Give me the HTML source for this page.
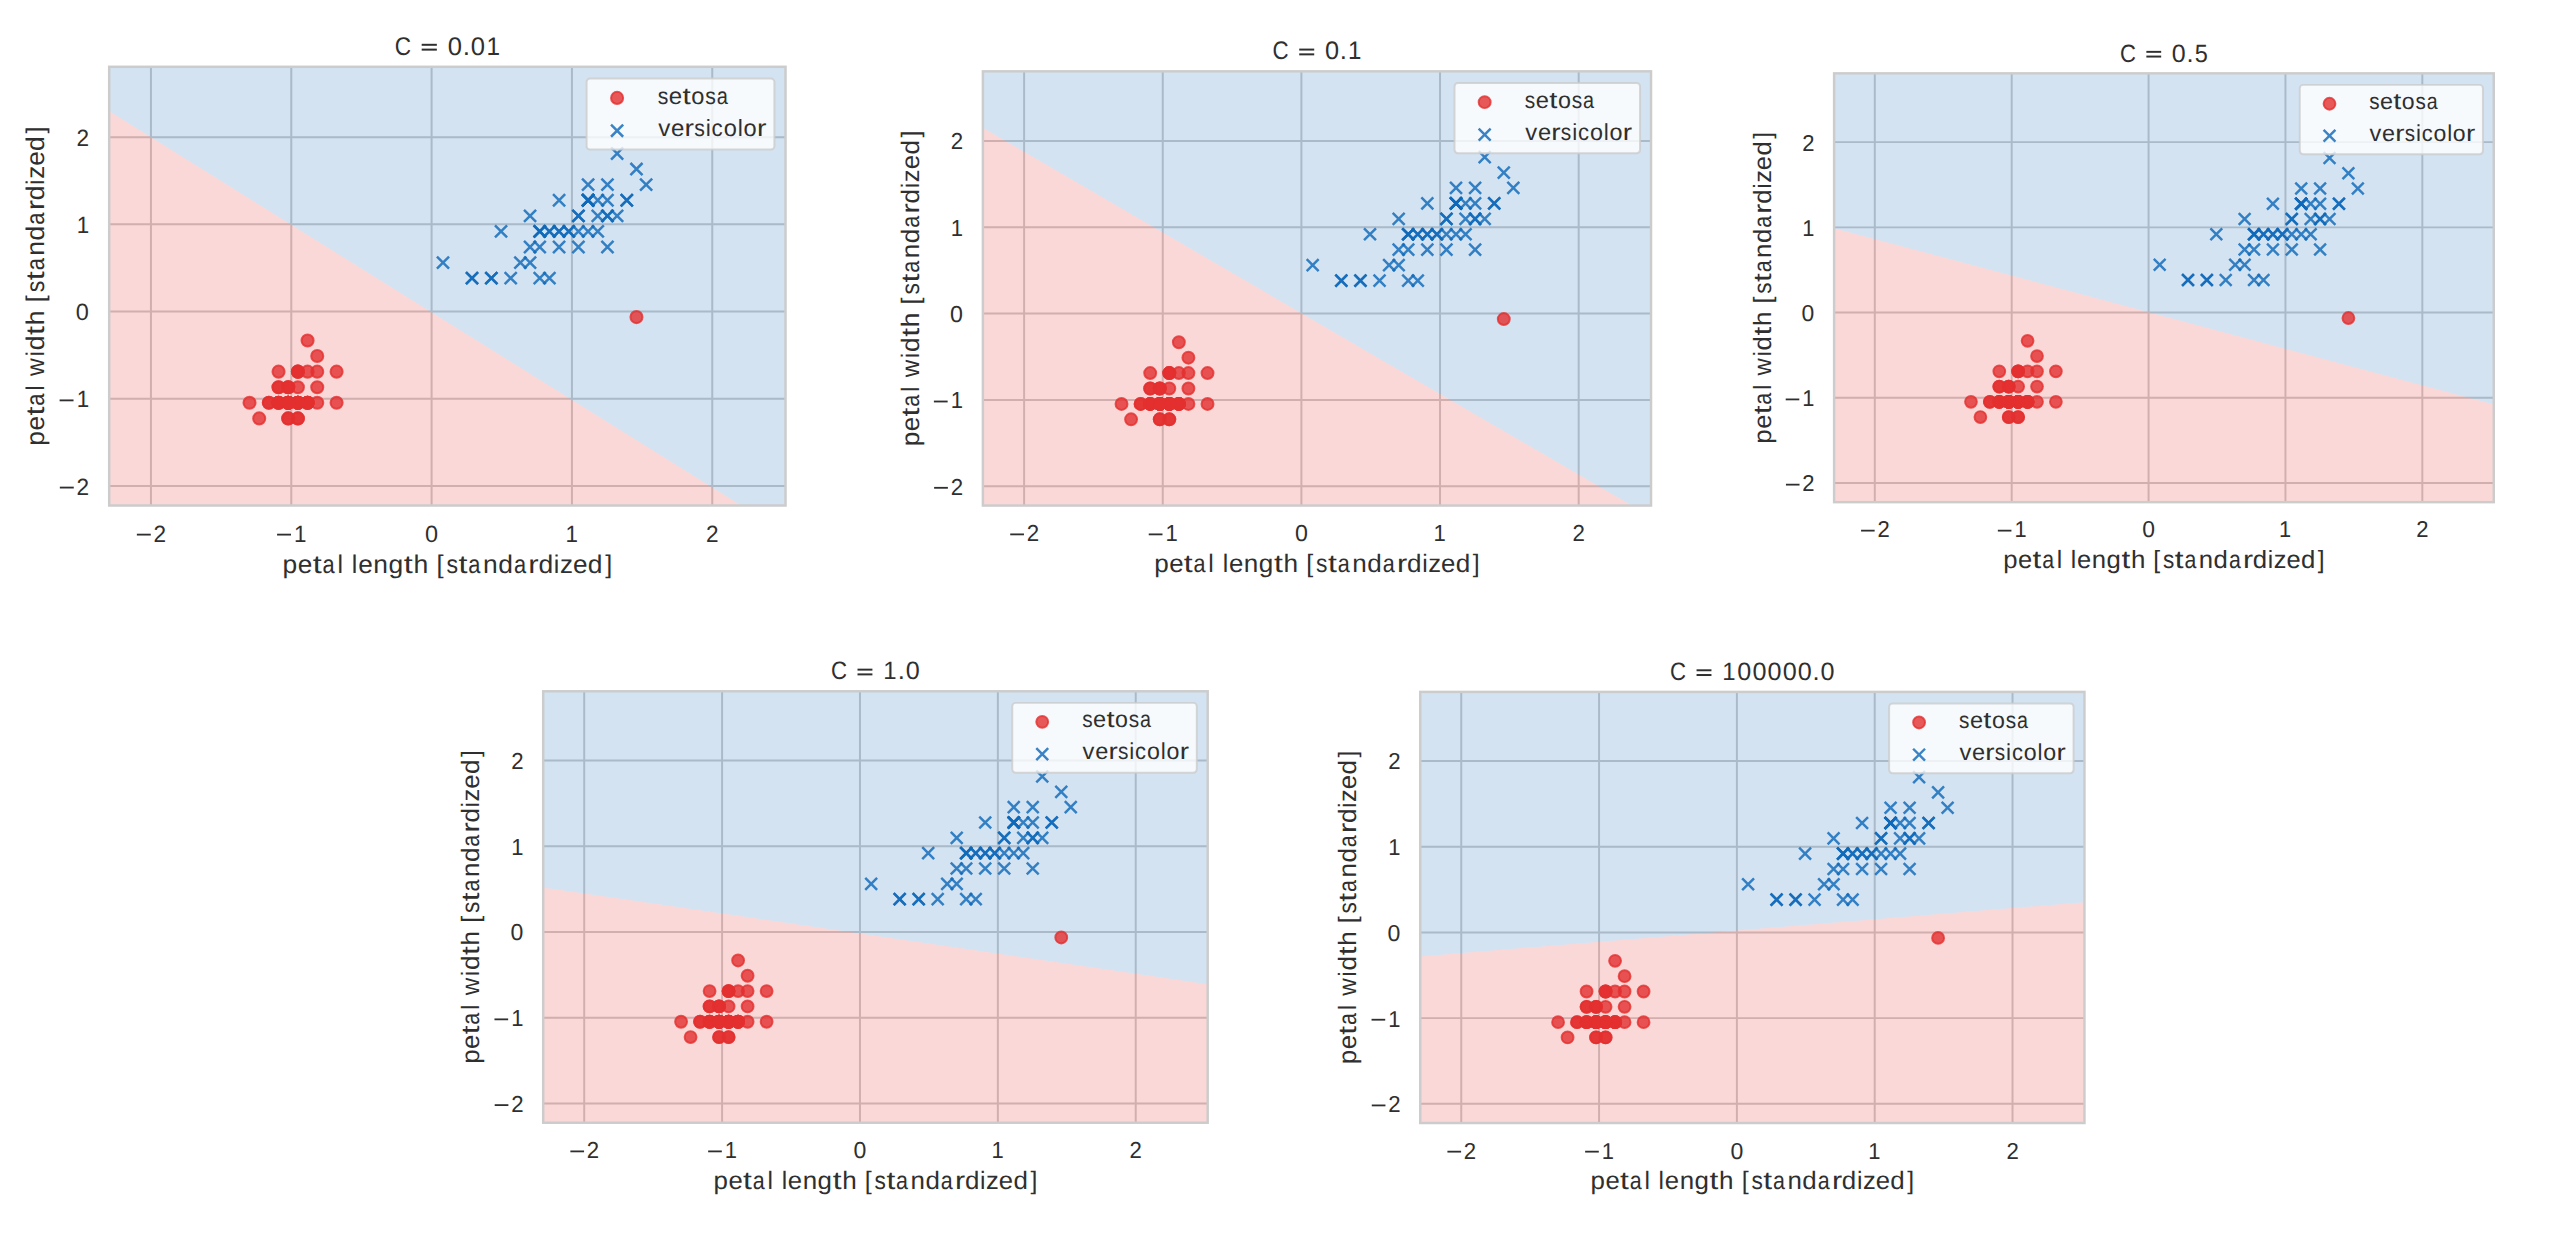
<!DOCTYPE html><html><head><meta charset="utf-8"><style>html,body{margin:0;padding:0;background:#fff;}svg{display:block;} text{font-family:"Liberation Sans", sans-serif;fill:#2f2f2f;text-rendering:geometricPrecision;}</style></head><body>
<svg width="2560" height="1243" viewBox="0 0 2560 1243">
<rect width="2560" height="1243" fill="#fff"/>
<g transform="matrix(1.00000 0 0 1.00000 -0.000 -0.000)">
<clipPath id="clip0"><rect x="109.20" y="66.80" width="676.30" height="438.70"/></clipPath>
<rect x="109.20" y="66.80" width="676.30" height="438.70" fill="#fff"/>
<path d="M150.94 66.80V505.50M109.20 485.95H785.50M291.27 66.80V505.50M109.20 398.75H785.50M431.60 66.80V505.50M109.20 311.55H785.50M571.93 66.80V505.50M109.20 224.35H785.50M712.26 66.80V505.50M109.20 137.15H785.50" stroke="#cccccc" stroke-width="2.0" fill="none"/>
<g clip-path="url(#clip0)">
<path d="M102.18 106.82 L792.52 537.50 L792.52 515.50 L102.18 515.50 Z" fill="rgb(230,60,60)" fill-opacity="0.2"/>
<path d="M102.18 106.82 L792.52 537.50 L792.52 56.80 L102.18 56.80 Z" fill="rgb(35,115,190)" fill-opacity="0.2"/>
<g fill="rgb(228,48,48)" fill-opacity="0.8" stroke="rgb(228,48,48)" stroke-opacity="0.8" stroke-width="2.0">
<circle cx="288.22" cy="402.82" r="6.05"/>
<circle cx="288.22" cy="402.82" r="6.05"/>
<circle cx="278.55" cy="402.82" r="6.05"/>
<circle cx="297.90" cy="402.82" r="6.05"/>
<circle cx="288.22" cy="402.82" r="6.05"/>
<circle cx="317.24" cy="371.65" r="6.05"/>
<circle cx="288.22" cy="387.23" r="6.05"/>
<circle cx="297.90" cy="402.82" r="6.05"/>
<circle cx="288.22" cy="402.82" r="6.05"/>
<circle cx="297.90" cy="418.40" r="6.05"/>
<circle cx="297.90" cy="402.82" r="6.05"/>
<circle cx="307.57" cy="402.82" r="6.05"/>
<circle cx="288.22" cy="418.40" r="6.05"/>
<circle cx="259.20" cy="418.40" r="6.05"/>
<circle cx="268.87" cy="402.82" r="6.05"/>
<circle cx="297.90" cy="371.65" r="6.05"/>
<circle cx="278.55" cy="371.65" r="6.05"/>
<circle cx="288.22" cy="387.23" r="6.05"/>
<circle cx="317.24" cy="387.23" r="6.05"/>
<circle cx="297.90" cy="387.23" r="6.05"/>
<circle cx="317.24" cy="402.82" r="6.05"/>
<circle cx="297.90" cy="371.65" r="6.05"/>
<circle cx="249.53" cy="402.82" r="6.05"/>
<circle cx="317.24" cy="356.07" r="6.05"/>
<circle cx="336.59" cy="402.82" r="6.05"/>
<circle cx="307.57" cy="402.82" r="6.05"/>
<circle cx="307.57" cy="371.65" r="6.05"/>
<circle cx="297.90" cy="402.82" r="6.05"/>
<circle cx="288.22" cy="402.82" r="6.05"/>
<circle cx="307.57" cy="402.82" r="6.05"/>
<circle cx="307.57" cy="402.82" r="6.05"/>
<circle cx="297.90" cy="371.65" r="6.05"/>
<circle cx="297.90" cy="418.40" r="6.05"/>
<circle cx="288.22" cy="402.82" r="6.05"/>
<circle cx="297.90" cy="402.82" r="6.05"/>
<circle cx="268.87" cy="402.82" r="6.05"/>
<circle cx="278.55" cy="402.82" r="6.05"/>
<circle cx="288.22" cy="418.40" r="6.05"/>
<circle cx="278.55" cy="402.82" r="6.05"/>
<circle cx="297.90" cy="402.82" r="6.05"/>
<circle cx="278.55" cy="387.23" r="6.05"/>
<circle cx="278.55" cy="387.23" r="6.05"/>
<circle cx="278.55" cy="402.82" r="6.05"/>
<circle cx="307.57" cy="340.48" r="6.05"/>
<circle cx="336.59" cy="371.65" r="6.05"/>
<circle cx="288.22" cy="387.23" r="6.05"/>
<circle cx="307.57" cy="402.82" r="6.05"/>
<circle cx="288.22" cy="402.82" r="6.05"/>
<circle cx="297.90" cy="402.82" r="6.05"/>
<circle cx="288.22" cy="402.82" r="6.05"/>
<circle cx="636.47" cy="317.10" r="6.05"/>
</g>
<g stroke="rgb(15,105,185)" stroke-opacity="0.82" stroke-width="2.5" fill="none">
<path d="M601.40 209.76L613.50 221.86M601.40 221.86L613.50 209.76"/>
<path d="M582.05 194.17L594.15 206.27M582.05 206.27L594.15 194.17"/>
<path d="M620.74 194.17L632.84 206.27M620.74 206.27L632.84 194.17"/>
<path d="M533.68 225.34L545.78 237.44M533.68 237.44L545.78 225.34"/>
<path d="M591.72 194.17L603.82 206.27M591.72 206.27L603.82 194.17"/>
<path d="M582.05 225.34L594.15 237.44M582.05 237.44L594.15 225.34"/>
<path d="M601.40 178.59L613.50 190.69M601.40 190.69L613.50 178.59"/>
<path d="M465.97 272.09L478.07 284.19M465.97 284.19L478.07 272.09"/>
<path d="M591.72 225.34L603.82 237.44M591.72 237.44L603.82 225.34"/>
<path d="M524.01 209.76L536.11 221.86M524.01 221.86L536.11 209.76"/>
<path d="M485.31 272.09L497.41 284.19M485.31 284.19L497.41 272.09"/>
<path d="M553.03 194.17L565.13 206.27M553.03 206.27L565.13 194.17"/>
<path d="M533.68 272.09L545.78 284.19M533.68 284.19L545.78 272.09"/>
<path d="M601.40 209.76L613.50 221.86M601.40 221.86L613.50 209.76"/>
<path d="M494.99 225.34L507.09 237.44M494.99 237.44L507.09 225.34"/>
<path d="M572.38 209.76L584.48 221.86M572.38 221.86L584.48 209.76"/>
<path d="M582.05 194.17L594.15 206.27M582.05 206.27L594.15 194.17"/>
<path d="M543.36 272.09L555.46 284.19M543.36 284.19L555.46 272.09"/>
<path d="M582.05 194.17L594.15 206.27M582.05 206.27L594.15 194.17"/>
<path d="M524.01 256.51L536.11 268.61M524.01 268.61L536.11 256.51"/>
<path d="M611.07 147.42L623.17 159.52M611.07 159.52L623.17 147.42"/>
<path d="M533.68 225.34L545.78 237.44M533.68 237.44L545.78 225.34"/>
<path d="M620.74 194.17L632.84 206.27M620.74 206.27L632.84 194.17"/>
<path d="M601.40 240.93L613.50 253.03M601.40 253.03L613.50 240.93"/>
<path d="M562.70 225.34L574.80 237.44M562.70 237.44L574.80 225.34"/>
<path d="M572.38 209.76L584.48 221.86M572.38 221.86L584.48 209.76"/>
<path d="M611.07 209.76L623.17 221.86M611.07 221.86L623.17 209.76"/>
<path d="M630.42 163.00L642.52 175.10M630.42 175.10L642.52 163.00"/>
<path d="M582.05 194.17L594.15 206.27M582.05 206.27L594.15 194.17"/>
<path d="M485.31 272.09L497.41 284.19M485.31 284.19L497.41 272.09"/>
<path d="M514.34 256.51L526.44 268.61M514.34 268.61L526.44 256.51"/>
<path d="M504.66 272.09L516.76 284.19M504.66 284.19L516.76 272.09"/>
<path d="M524.01 240.93L536.11 253.03M524.01 253.03L536.11 240.93"/>
<path d="M640.09 178.59L652.19 190.69M640.09 190.69L652.19 178.59"/>
<path d="M582.05 194.17L594.15 206.27M582.05 206.27L594.15 194.17"/>
<path d="M582.05 178.59L594.15 190.69M582.05 190.69L594.15 178.59"/>
<path d="M601.40 194.17L613.50 206.27M601.40 206.27L613.50 194.17"/>
<path d="M572.38 225.34L584.48 237.44M572.38 237.44L584.48 225.34"/>
<path d="M543.36 225.34L555.46 237.44M543.36 237.44L555.46 225.34"/>
<path d="M533.68 225.34L545.78 237.44M533.68 237.44L545.78 225.34"/>
<path d="M572.38 240.93L584.48 253.03M572.38 253.03L584.48 240.93"/>
<path d="M591.72 209.76L603.82 221.86M591.72 221.86L603.82 209.76"/>
<path d="M533.68 240.93L545.78 253.03M533.68 253.03L545.78 240.93"/>
<path d="M465.97 272.09L478.07 284.19M465.97 284.19L478.07 272.09"/>
<path d="M553.03 225.34L565.13 237.44M553.03 237.44L565.13 225.34"/>
<path d="M553.03 240.93L565.13 253.03M553.03 253.03L565.13 240.93"/>
<path d="M553.03 225.34L565.13 237.44M553.03 237.44L565.13 225.34"/>
<path d="M562.70 225.34L574.80 237.44M562.70 237.44L574.80 225.34"/>
<path d="M436.95 256.51L449.05 268.61M436.95 268.61L449.05 256.51"/>
<path d="M543.36 225.34L555.46 237.44M543.36 237.44L555.46 225.34"/>
</g>
</g>
<rect x="109.20" y="66.80" width="676.30" height="438.70" fill="none" stroke="#cccccc" stroke-width="2.5"/>
<rect x="586.60" y="78.60" width="187.80" height="71.00" rx="3.5" fill="#fff" fill-opacity="0.8" stroke="#cccccc" stroke-opacity="0.8" stroke-width="2.0"/>
<circle cx="617.1" cy="97.9" r="6.05" fill="rgb(228,48,48)" fill-opacity="0.8" stroke="rgb(228,48,48)" stroke-opacity="0.8" stroke-width="2.0"/>
<path d="M611.05 124.65L623.15 136.75M611.05 136.75L623.15 124.65" stroke="rgb(15,105,185)" stroke-opacity="0.82" stroke-width="2.5"/>
<g font-size="23.50"><text transform="translate(657.72 103.60) scale(0.902 1)">s</text><text transform="translate(668.86 103.60) scale(1.021 1)">e</text><text transform="translate(682.49 103.60) scale(1.261 1)">t</text><text transform="translate(691.26 103.60) scale(1.006 1)">o</text><text transform="translate(705.27 103.60) scale(0.902 1)">s</text><text transform="translate(716.69 103.60) scale(0.853 1)">a</text></g>
<g font-size="23.50"><text transform="translate(658.18 136.00) scale(1.028 1)">v</text><text transform="translate(670.99 136.00) scale(1.021 1)">e</text><text transform="translate(684.53 136.00) scale(1.210 1)">r</text><text transform="translate(694.23 136.00) scale(0.902 1)">s</text><text transform="translate(705.73 136.00) scale(0.973 1)">i</text><text transform="translate(711.61 136.00) scale(0.951 1)">c</text><text transform="translate(723.77 136.00) scale(1.006 1)">o</text><text transform="translate(737.72 136.00) scale(0.973 1)">l</text><text transform="translate(743.54 136.00) scale(1.006 1)">o</text><text transform="translate(757.00 136.00) scale(1.210 1)">r</text></g>
<g font-size="25.60"><text transform="translate(394.68 54.80) scale(0.883 1)">C</text><rect x="421.68" y="43.80" width="15.17" height="1.99" fill="#2f2f2f"/><rect x="421.68" y="48.62" width="15.17" height="2.01" fill="#2f2f2f"/><text transform="translate(447.67 54.80) scale(1.001 1)">0</text><text transform="translate(462.73 54.80) scale(1.022 1)">.</text><text transform="translate(470.80 54.80) scale(1.001 1)">0</text><text transform="translate(486.51 54.80) scale(0.952 1)">1</text></g>
<g font-size="25.60"><text transform="translate(282.62 572.60) scale(1.031 1)">p</text><text transform="translate(297.76 572.60) scale(1.022 1)">e</text><text transform="translate(312.64 572.60) scale(1.262 1)">t</text><text transform="translate(322.48 572.60) scale(0.854 1)">a</text><text transform="translate(337.43 572.60) scale(0.974 1)">l</text><text transform="translate(351.87 572.60) scale(0.974 1)">l</text><text transform="translate(358.21 572.60) scale(1.022 1)">e</text><text transform="translate(373.30 572.60) scale(1.031 1)">n</text><text transform="translate(388.48 572.60) scale(1.031 1)">g</text><text transform="translate(403.83 572.60) scale(1.262 1)">t</text><text transform="translate(413.48 572.60) scale(1.037 1)">h</text><text transform="translate(436.44 572.60) scale(0.995 1)">[</text><text transform="translate(446.38 572.60) scale(0.904 1)">s</text><text transform="translate(458.49 572.60) scale(1.262 1)">t</text><text transform="translate(468.34 572.60) scale(0.854 1)">a</text><text transform="translate(483.07 572.60) scale(1.031 1)">n</text><text transform="translate(498.24 572.60) scale(1.031 1)">d</text><text transform="translate(513.94 572.60) scale(0.854 1)">a</text><text transform="translate(528.36 572.60) scale(1.212 1)">r</text><text transform="translate(538.45 572.60) scale(1.031 1)">d</text><text transform="translate(553.82 572.60) scale(0.974 1)">i</text><text transform="translate(559.92 572.60) scale(1.016 1)">z</text><text transform="translate(572.88 572.60) scale(1.022 1)">e</text><text transform="translate(587.78 572.60) scale(1.031 1)">d</text><text transform="translate(605.13 572.60) scale(0.982 1)">]</text></g>
<g transform="translate(44.1 286.15) rotate(-90)">
<g font-size="25.60"><text transform="translate(-159.49 0.00) scale(1.031 1)">p</text><text transform="translate(-144.35 0.00) scale(1.022 1)">e</text><text transform="translate(-129.47 0.00) scale(1.262 1)">t</text><text transform="translate(-119.62 0.00) scale(0.854 1)">a</text><text transform="translate(-104.68 0.00) scale(0.974 1)">l</text><text transform="translate(-89.83 0.00) scale(0.957 1)">w</text><text transform="translate(-70.41 0.00) scale(0.974 1)">i</text><text transform="translate(-64.08 0.00) scale(1.031 1)">d</text><text transform="translate(-48.73 0.00) scale(1.262 1)">t</text><text transform="translate(-39.08 0.00) scale(1.037 1)">h</text><text transform="translate(-16.12 0.00) scale(0.995 1)">[</text><text transform="translate(-6.18 0.00) scale(0.904 1)">s</text><text transform="translate(5.93 0.00) scale(1.262 1)">t</text><text transform="translate(15.78 0.00) scale(0.854 1)">a</text><text transform="translate(30.51 0.00) scale(1.031 1)">n</text><text transform="translate(45.68 0.00) scale(1.031 1)">d</text><text transform="translate(61.38 0.00) scale(0.854 1)">a</text><text transform="translate(75.80 0.00) scale(1.212 1)">r</text><text transform="translate(85.89 0.00) scale(1.031 1)">d</text><text transform="translate(101.26 0.00) scale(0.974 1)">i</text><text transform="translate(107.36 0.00) scale(1.016 1)">z</text><text transform="translate(120.32 0.00) scale(1.022 1)">e</text><text transform="translate(135.22 0.00) scale(1.031 1)">d</text><text transform="translate(152.57 0.00) scale(0.982 1)">]</text></g>
</g>
<rect x="136.86" y="533.71" width="13.92" height="1.83" fill="#2f2f2f"/><text transform="translate(153.60 541.60) scale(0.9611 1)" font-size="23.50">2</text>
<rect x="59.84" y="486.66" width="13.92" height="1.83" fill="#2f2f2f"/><text transform="translate(76.58 494.55) scale(0.9611 1)" font-size="23.50">2</text>
<rect x="277.08" y="533.71" width="13.92" height="1.83" fill="#2f2f2f"/><text transform="translate(294.10 541.60) scale(0.9510 1)" font-size="23.50">1</text>
<rect x="59.61" y="399.46" width="13.92" height="1.83" fill="#2f2f2f"/><text transform="translate(76.64 407.35) scale(0.9510 1)" font-size="23.50">1</text>
<text transform="translate(425.05 541.60) scale(1.0000 1)" font-size="23.50">0</text>
<text transform="translate(75.84 320.15) scale(1.0000 1)" font-size="23.50">0</text>
<text transform="translate(565.42 541.60) scale(0.9510 1)" font-size="23.50">1</text>
<text transform="translate(76.66 232.95) scale(0.9510 1)" font-size="23.50">1</text>
<text transform="translate(705.99 541.60) scale(0.9611 1)" font-size="23.50">2</text>
<text transform="translate(76.59 145.75) scale(0.9611 1)" font-size="23.50">2</text>
</g>
<g transform="matrix(0.98793 0 0 0.98974 875.005 5.240)">
<clipPath id="clip1"><rect x="109.20" y="66.80" width="676.30" height="438.70"/></clipPath>
<rect x="109.20" y="66.80" width="676.30" height="438.70" fill="#fff"/>
<path d="M150.94 66.80V505.50M109.20 485.95H785.50M291.27 66.80V505.50M109.20 398.75H785.50M431.60 66.80V505.50M109.20 311.55H785.50M571.93 66.80V505.50M109.20 224.35H785.50M712.26 66.80V505.50M109.20 137.15H785.50" stroke="#cccccc" stroke-width="2.0" fill="none"/>
<g clip-path="url(#clip1)">
<path d="M102.18 119.72 L792.52 520.81 L792.52 515.50 L102.18 515.50 Z" fill="rgb(230,60,60)" fill-opacity="0.2"/>
<path d="M102.18 119.72 L792.52 520.81 L792.52 56.80 L102.18 56.80 Z" fill="rgb(35,115,190)" fill-opacity="0.2"/>
<g fill="rgb(228,48,48)" fill-opacity="0.8" stroke="rgb(228,48,48)" stroke-opacity="0.8" stroke-width="2.0">
<circle cx="288.22" cy="402.82" r="6.05"/>
<circle cx="288.22" cy="402.82" r="6.05"/>
<circle cx="278.55" cy="402.82" r="6.05"/>
<circle cx="297.90" cy="402.82" r="6.05"/>
<circle cx="288.22" cy="402.82" r="6.05"/>
<circle cx="317.24" cy="371.65" r="6.05"/>
<circle cx="288.22" cy="387.23" r="6.05"/>
<circle cx="297.90" cy="402.82" r="6.05"/>
<circle cx="288.22" cy="402.82" r="6.05"/>
<circle cx="297.90" cy="418.40" r="6.05"/>
<circle cx="297.90" cy="402.82" r="6.05"/>
<circle cx="307.57" cy="402.82" r="6.05"/>
<circle cx="288.22" cy="418.40" r="6.05"/>
<circle cx="259.20" cy="418.40" r="6.05"/>
<circle cx="268.87" cy="402.82" r="6.05"/>
<circle cx="297.90" cy="371.65" r="6.05"/>
<circle cx="278.55" cy="371.65" r="6.05"/>
<circle cx="288.22" cy="387.23" r="6.05"/>
<circle cx="317.24" cy="387.23" r="6.05"/>
<circle cx="297.90" cy="387.23" r="6.05"/>
<circle cx="317.24" cy="402.82" r="6.05"/>
<circle cx="297.90" cy="371.65" r="6.05"/>
<circle cx="249.53" cy="402.82" r="6.05"/>
<circle cx="317.24" cy="356.07" r="6.05"/>
<circle cx="336.59" cy="402.82" r="6.05"/>
<circle cx="307.57" cy="402.82" r="6.05"/>
<circle cx="307.57" cy="371.65" r="6.05"/>
<circle cx="297.90" cy="402.82" r="6.05"/>
<circle cx="288.22" cy="402.82" r="6.05"/>
<circle cx="307.57" cy="402.82" r="6.05"/>
<circle cx="307.57" cy="402.82" r="6.05"/>
<circle cx="297.90" cy="371.65" r="6.05"/>
<circle cx="297.90" cy="418.40" r="6.05"/>
<circle cx="288.22" cy="402.82" r="6.05"/>
<circle cx="297.90" cy="402.82" r="6.05"/>
<circle cx="268.87" cy="402.82" r="6.05"/>
<circle cx="278.55" cy="402.82" r="6.05"/>
<circle cx="288.22" cy="418.40" r="6.05"/>
<circle cx="278.55" cy="402.82" r="6.05"/>
<circle cx="297.90" cy="402.82" r="6.05"/>
<circle cx="278.55" cy="387.23" r="6.05"/>
<circle cx="278.55" cy="387.23" r="6.05"/>
<circle cx="278.55" cy="402.82" r="6.05"/>
<circle cx="307.57" cy="340.48" r="6.05"/>
<circle cx="336.59" cy="371.65" r="6.05"/>
<circle cx="288.22" cy="387.23" r="6.05"/>
<circle cx="307.57" cy="402.82" r="6.05"/>
<circle cx="288.22" cy="402.82" r="6.05"/>
<circle cx="297.90" cy="402.82" r="6.05"/>
<circle cx="288.22" cy="402.82" r="6.05"/>
<circle cx="636.47" cy="317.10" r="6.05"/>
</g>
<g stroke="rgb(15,105,185)" stroke-opacity="0.82" stroke-width="2.5" fill="none">
<path d="M601.40 209.76L613.50 221.86M601.40 221.86L613.50 209.76"/>
<path d="M582.05 194.17L594.15 206.27M582.05 206.27L594.15 194.17"/>
<path d="M620.74 194.17L632.84 206.27M620.74 206.27L632.84 194.17"/>
<path d="M533.68 225.34L545.78 237.44M533.68 237.44L545.78 225.34"/>
<path d="M591.72 194.17L603.82 206.27M591.72 206.27L603.82 194.17"/>
<path d="M582.05 225.34L594.15 237.44M582.05 237.44L594.15 225.34"/>
<path d="M601.40 178.59L613.50 190.69M601.40 190.69L613.50 178.59"/>
<path d="M465.97 272.09L478.07 284.19M465.97 284.19L478.07 272.09"/>
<path d="M591.72 225.34L603.82 237.44M591.72 237.44L603.82 225.34"/>
<path d="M524.01 209.76L536.11 221.86M524.01 221.86L536.11 209.76"/>
<path d="M485.31 272.09L497.41 284.19M485.31 284.19L497.41 272.09"/>
<path d="M553.03 194.17L565.13 206.27M553.03 206.27L565.13 194.17"/>
<path d="M533.68 272.09L545.78 284.19M533.68 284.19L545.78 272.09"/>
<path d="M601.40 209.76L613.50 221.86M601.40 221.86L613.50 209.76"/>
<path d="M494.99 225.34L507.09 237.44M494.99 237.44L507.09 225.34"/>
<path d="M572.38 209.76L584.48 221.86M572.38 221.86L584.48 209.76"/>
<path d="M582.05 194.17L594.15 206.27M582.05 206.27L594.15 194.17"/>
<path d="M543.36 272.09L555.46 284.19M543.36 284.19L555.46 272.09"/>
<path d="M582.05 194.17L594.15 206.27M582.05 206.27L594.15 194.17"/>
<path d="M524.01 256.51L536.11 268.61M524.01 268.61L536.11 256.51"/>
<path d="M611.07 147.42L623.17 159.52M611.07 159.52L623.17 147.42"/>
<path d="M533.68 225.34L545.78 237.44M533.68 237.44L545.78 225.34"/>
<path d="M620.74 194.17L632.84 206.27M620.74 206.27L632.84 194.17"/>
<path d="M601.40 240.93L613.50 253.03M601.40 253.03L613.50 240.93"/>
<path d="M562.70 225.34L574.80 237.44M562.70 237.44L574.80 225.34"/>
<path d="M572.38 209.76L584.48 221.86M572.38 221.86L584.48 209.76"/>
<path d="M611.07 209.76L623.17 221.86M611.07 221.86L623.17 209.76"/>
<path d="M630.42 163.00L642.52 175.10M630.42 175.10L642.52 163.00"/>
<path d="M582.05 194.17L594.15 206.27M582.05 206.27L594.15 194.17"/>
<path d="M485.31 272.09L497.41 284.19M485.31 284.19L497.41 272.09"/>
<path d="M514.34 256.51L526.44 268.61M514.34 268.61L526.44 256.51"/>
<path d="M504.66 272.09L516.76 284.19M504.66 284.19L516.76 272.09"/>
<path d="M524.01 240.93L536.11 253.03M524.01 253.03L536.11 240.93"/>
<path d="M640.09 178.59L652.19 190.69M640.09 190.69L652.19 178.59"/>
<path d="M582.05 194.17L594.15 206.27M582.05 206.27L594.15 194.17"/>
<path d="M582.05 178.59L594.15 190.69M582.05 190.69L594.15 178.59"/>
<path d="M601.40 194.17L613.50 206.27M601.40 206.27L613.50 194.17"/>
<path d="M572.38 225.34L584.48 237.44M572.38 237.44L584.48 225.34"/>
<path d="M543.36 225.34L555.46 237.44M543.36 237.44L555.46 225.34"/>
<path d="M533.68 225.34L545.78 237.44M533.68 237.44L545.78 225.34"/>
<path d="M572.38 240.93L584.48 253.03M572.38 253.03L584.48 240.93"/>
<path d="M591.72 209.76L603.82 221.86M591.72 221.86L603.82 209.76"/>
<path d="M533.68 240.93L545.78 253.03M533.68 253.03L545.78 240.93"/>
<path d="M465.97 272.09L478.07 284.19M465.97 284.19L478.07 272.09"/>
<path d="M553.03 225.34L565.13 237.44M553.03 237.44L565.13 225.34"/>
<path d="M553.03 240.93L565.13 253.03M553.03 253.03L565.13 240.93"/>
<path d="M553.03 225.34L565.13 237.44M553.03 237.44L565.13 225.34"/>
<path d="M562.70 225.34L574.80 237.44M562.70 237.44L574.80 225.34"/>
<path d="M436.95 256.51L449.05 268.61M436.95 268.61L449.05 256.51"/>
<path d="M543.36 225.34L555.46 237.44M543.36 237.44L555.46 225.34"/>
</g>
</g>
<rect x="109.20" y="66.80" width="676.30" height="438.70" fill="none" stroke="#cccccc" stroke-width="2.5"/>
<rect x="586.60" y="78.60" width="187.80" height="71.00" rx="3.5" fill="#fff" fill-opacity="0.8" stroke="#cccccc" stroke-opacity="0.8" stroke-width="2.0"/>
<circle cx="617.1" cy="97.9" r="6.05" fill="rgb(228,48,48)" fill-opacity="0.8" stroke="rgb(228,48,48)" stroke-opacity="0.8" stroke-width="2.0"/>
<path d="M611.05 124.65L623.15 136.75M611.05 136.75L623.15 124.65" stroke="rgb(15,105,185)" stroke-opacity="0.82" stroke-width="2.5"/>
<g font-size="23.50"><text transform="translate(657.72 103.60) scale(0.902 1)">s</text><text transform="translate(668.86 103.60) scale(1.021 1)">e</text><text transform="translate(682.49 103.60) scale(1.261 1)">t</text><text transform="translate(691.26 103.60) scale(1.006 1)">o</text><text transform="translate(705.27 103.60) scale(0.902 1)">s</text><text transform="translate(716.69 103.60) scale(0.853 1)">a</text></g>
<g font-size="23.50"><text transform="translate(658.18 136.00) scale(1.028 1)">v</text><text transform="translate(670.99 136.00) scale(1.021 1)">e</text><text transform="translate(684.53 136.00) scale(1.210 1)">r</text><text transform="translate(694.23 136.00) scale(0.902 1)">s</text><text transform="translate(705.73 136.00) scale(0.973 1)">i</text><text transform="translate(711.61 136.00) scale(0.951 1)">c</text><text transform="translate(723.77 136.00) scale(1.006 1)">o</text><text transform="translate(737.72 136.00) scale(0.973 1)">l</text><text transform="translate(743.54 136.00) scale(1.006 1)">o</text><text transform="translate(757.00 136.00) scale(1.210 1)">r</text></g>
<g font-size="25.60"><text transform="translate(402.41 54.80) scale(0.883 1)">C</text><rect x="429.40" y="43.80" width="15.17" height="1.99" fill="#2f2f2f"/><rect x="429.40" y="48.62" width="15.17" height="2.01" fill="#2f2f2f"/><text transform="translate(455.40 54.80) scale(1.001 1)">0</text><text transform="translate(470.46 54.80) scale(1.022 1)">.</text><text transform="translate(478.82 54.80) scale(0.952 1)">1</text></g>
<g font-size="25.60"><text transform="translate(282.62 572.60) scale(1.031 1)">p</text><text transform="translate(297.76 572.60) scale(1.022 1)">e</text><text transform="translate(312.64 572.60) scale(1.262 1)">t</text><text transform="translate(322.48 572.60) scale(0.854 1)">a</text><text transform="translate(337.43 572.60) scale(0.974 1)">l</text><text transform="translate(351.87 572.60) scale(0.974 1)">l</text><text transform="translate(358.21 572.60) scale(1.022 1)">e</text><text transform="translate(373.30 572.60) scale(1.031 1)">n</text><text transform="translate(388.48 572.60) scale(1.031 1)">g</text><text transform="translate(403.83 572.60) scale(1.262 1)">t</text><text transform="translate(413.48 572.60) scale(1.037 1)">h</text><text transform="translate(436.44 572.60) scale(0.995 1)">[</text><text transform="translate(446.38 572.60) scale(0.904 1)">s</text><text transform="translate(458.49 572.60) scale(1.262 1)">t</text><text transform="translate(468.34 572.60) scale(0.854 1)">a</text><text transform="translate(483.07 572.60) scale(1.031 1)">n</text><text transform="translate(498.24 572.60) scale(1.031 1)">d</text><text transform="translate(513.94 572.60) scale(0.854 1)">a</text><text transform="translate(528.36 572.60) scale(1.212 1)">r</text><text transform="translate(538.45 572.60) scale(1.031 1)">d</text><text transform="translate(553.82 572.60) scale(0.974 1)">i</text><text transform="translate(559.92 572.60) scale(1.016 1)">z</text><text transform="translate(572.88 572.60) scale(1.022 1)">e</text><text transform="translate(587.78 572.60) scale(1.031 1)">d</text><text transform="translate(605.13 572.60) scale(0.982 1)">]</text></g>
<g transform="translate(44.1 286.15) rotate(-90)">
<g font-size="25.60"><text transform="translate(-159.49 0.00) scale(1.031 1)">p</text><text transform="translate(-144.35 0.00) scale(1.022 1)">e</text><text transform="translate(-129.47 0.00) scale(1.262 1)">t</text><text transform="translate(-119.62 0.00) scale(0.854 1)">a</text><text transform="translate(-104.68 0.00) scale(0.974 1)">l</text><text transform="translate(-89.83 0.00) scale(0.957 1)">w</text><text transform="translate(-70.41 0.00) scale(0.974 1)">i</text><text transform="translate(-64.08 0.00) scale(1.031 1)">d</text><text transform="translate(-48.73 0.00) scale(1.262 1)">t</text><text transform="translate(-39.08 0.00) scale(1.037 1)">h</text><text transform="translate(-16.12 0.00) scale(0.995 1)">[</text><text transform="translate(-6.18 0.00) scale(0.904 1)">s</text><text transform="translate(5.93 0.00) scale(1.262 1)">t</text><text transform="translate(15.78 0.00) scale(0.854 1)">a</text><text transform="translate(30.51 0.00) scale(1.031 1)">n</text><text transform="translate(45.68 0.00) scale(1.031 1)">d</text><text transform="translate(61.38 0.00) scale(0.854 1)">a</text><text transform="translate(75.80 0.00) scale(1.212 1)">r</text><text transform="translate(85.89 0.00) scale(1.031 1)">d</text><text transform="translate(101.26 0.00) scale(0.974 1)">i</text><text transform="translate(107.36 0.00) scale(1.016 1)">z</text><text transform="translate(120.32 0.00) scale(1.022 1)">e</text><text transform="translate(135.22 0.00) scale(1.031 1)">d</text><text transform="translate(152.57 0.00) scale(0.982 1)">]</text></g>
</g>
<rect x="136.86" y="533.71" width="13.92" height="1.83" fill="#2f2f2f"/><text transform="translate(153.60 541.60) scale(0.9611 1)" font-size="23.50">2</text>
<rect x="59.84" y="486.66" width="13.92" height="1.83" fill="#2f2f2f"/><text transform="translate(76.58 494.55) scale(0.9611 1)" font-size="23.50">2</text>
<rect x="277.08" y="533.71" width="13.92" height="1.83" fill="#2f2f2f"/><text transform="translate(294.10 541.60) scale(0.9510 1)" font-size="23.50">1</text>
<rect x="59.61" y="399.46" width="13.92" height="1.83" fill="#2f2f2f"/><text transform="translate(76.64 407.35) scale(0.9510 1)" font-size="23.50">1</text>
<text transform="translate(425.05 541.60) scale(1.0000 1)" font-size="23.50">0</text>
<text transform="translate(75.84 320.15) scale(1.0000 1)" font-size="23.50">0</text>
<text transform="translate(565.42 541.60) scale(0.9510 1)" font-size="23.50">1</text>
<text transform="translate(76.66 232.95) scale(0.9510 1)" font-size="23.50">1</text>
<text transform="translate(705.99 541.60) scale(0.9611 1)" font-size="23.50">2</text>
<text transform="translate(76.59 145.75) scale(0.9611 1)" font-size="23.50">2</text>
</g>
<g transform="matrix(0.97543 0 0 0.97748 1727.574 8.056)">
<clipPath id="clip2"><rect x="109.20" y="66.80" width="676.30" height="438.70"/></clipPath>
<rect x="109.20" y="66.80" width="676.30" height="438.70" fill="#fff"/>
<path d="M150.94 66.80V505.50M109.20 485.95H785.50M291.27 66.80V505.50M109.20 398.75H785.50M431.60 66.80V505.50M109.20 311.55H785.50M571.93 66.80V505.50M109.20 224.35H785.50M712.26 66.80V505.50M109.20 137.15H785.50" stroke="#cccccc" stroke-width="2.0" fill="none"/>
<g clip-path="url(#clip2)">
<path d="M102.18 223.30 L792.52 407.33 L792.52 515.50 L102.18 515.50 Z" fill="rgb(230,60,60)" fill-opacity="0.2"/>
<path d="M102.18 223.30 L792.52 407.33 L792.52 56.80 L102.18 56.80 Z" fill="rgb(35,115,190)" fill-opacity="0.2"/>
<g fill="rgb(228,48,48)" fill-opacity="0.8" stroke="rgb(228,48,48)" stroke-opacity="0.8" stroke-width="2.0">
<circle cx="288.22" cy="402.82" r="6.05"/>
<circle cx="288.22" cy="402.82" r="6.05"/>
<circle cx="278.55" cy="402.82" r="6.05"/>
<circle cx="297.90" cy="402.82" r="6.05"/>
<circle cx="288.22" cy="402.82" r="6.05"/>
<circle cx="317.24" cy="371.65" r="6.05"/>
<circle cx="288.22" cy="387.23" r="6.05"/>
<circle cx="297.90" cy="402.82" r="6.05"/>
<circle cx="288.22" cy="402.82" r="6.05"/>
<circle cx="297.90" cy="418.40" r="6.05"/>
<circle cx="297.90" cy="402.82" r="6.05"/>
<circle cx="307.57" cy="402.82" r="6.05"/>
<circle cx="288.22" cy="418.40" r="6.05"/>
<circle cx="259.20" cy="418.40" r="6.05"/>
<circle cx="268.87" cy="402.82" r="6.05"/>
<circle cx="297.90" cy="371.65" r="6.05"/>
<circle cx="278.55" cy="371.65" r="6.05"/>
<circle cx="288.22" cy="387.23" r="6.05"/>
<circle cx="317.24" cy="387.23" r="6.05"/>
<circle cx="297.90" cy="387.23" r="6.05"/>
<circle cx="317.24" cy="402.82" r="6.05"/>
<circle cx="297.90" cy="371.65" r="6.05"/>
<circle cx="249.53" cy="402.82" r="6.05"/>
<circle cx="317.24" cy="356.07" r="6.05"/>
<circle cx="336.59" cy="402.82" r="6.05"/>
<circle cx="307.57" cy="402.82" r="6.05"/>
<circle cx="307.57" cy="371.65" r="6.05"/>
<circle cx="297.90" cy="402.82" r="6.05"/>
<circle cx="288.22" cy="402.82" r="6.05"/>
<circle cx="307.57" cy="402.82" r="6.05"/>
<circle cx="307.57" cy="402.82" r="6.05"/>
<circle cx="297.90" cy="371.65" r="6.05"/>
<circle cx="297.90" cy="418.40" r="6.05"/>
<circle cx="288.22" cy="402.82" r="6.05"/>
<circle cx="297.90" cy="402.82" r="6.05"/>
<circle cx="268.87" cy="402.82" r="6.05"/>
<circle cx="278.55" cy="402.82" r="6.05"/>
<circle cx="288.22" cy="418.40" r="6.05"/>
<circle cx="278.55" cy="402.82" r="6.05"/>
<circle cx="297.90" cy="402.82" r="6.05"/>
<circle cx="278.55" cy="387.23" r="6.05"/>
<circle cx="278.55" cy="387.23" r="6.05"/>
<circle cx="278.55" cy="402.82" r="6.05"/>
<circle cx="307.57" cy="340.48" r="6.05"/>
<circle cx="336.59" cy="371.65" r="6.05"/>
<circle cx="288.22" cy="387.23" r="6.05"/>
<circle cx="307.57" cy="402.82" r="6.05"/>
<circle cx="288.22" cy="402.82" r="6.05"/>
<circle cx="297.90" cy="402.82" r="6.05"/>
<circle cx="288.22" cy="402.82" r="6.05"/>
<circle cx="636.47" cy="317.10" r="6.05"/>
</g>
<g stroke="rgb(15,105,185)" stroke-opacity="0.82" stroke-width="2.5" fill="none">
<path d="M601.40 209.76L613.50 221.86M601.40 221.86L613.50 209.76"/>
<path d="M582.05 194.17L594.15 206.27M582.05 206.27L594.15 194.17"/>
<path d="M620.74 194.17L632.84 206.27M620.74 206.27L632.84 194.17"/>
<path d="M533.68 225.34L545.78 237.44M533.68 237.44L545.78 225.34"/>
<path d="M591.72 194.17L603.82 206.27M591.72 206.27L603.82 194.17"/>
<path d="M582.05 225.34L594.15 237.44M582.05 237.44L594.15 225.34"/>
<path d="M601.40 178.59L613.50 190.69M601.40 190.69L613.50 178.59"/>
<path d="M465.97 272.09L478.07 284.19M465.97 284.19L478.07 272.09"/>
<path d="M591.72 225.34L603.82 237.44M591.72 237.44L603.82 225.34"/>
<path d="M524.01 209.76L536.11 221.86M524.01 221.86L536.11 209.76"/>
<path d="M485.31 272.09L497.41 284.19M485.31 284.19L497.41 272.09"/>
<path d="M553.03 194.17L565.13 206.27M553.03 206.27L565.13 194.17"/>
<path d="M533.68 272.09L545.78 284.19M533.68 284.19L545.78 272.09"/>
<path d="M601.40 209.76L613.50 221.86M601.40 221.86L613.50 209.76"/>
<path d="M494.99 225.34L507.09 237.44M494.99 237.44L507.09 225.34"/>
<path d="M572.38 209.76L584.48 221.86M572.38 221.86L584.48 209.76"/>
<path d="M582.05 194.17L594.15 206.27M582.05 206.27L594.15 194.17"/>
<path d="M543.36 272.09L555.46 284.19M543.36 284.19L555.46 272.09"/>
<path d="M582.05 194.17L594.15 206.27M582.05 206.27L594.15 194.17"/>
<path d="M524.01 256.51L536.11 268.61M524.01 268.61L536.11 256.51"/>
<path d="M611.07 147.42L623.17 159.52M611.07 159.52L623.17 147.42"/>
<path d="M533.68 225.34L545.78 237.44M533.68 237.44L545.78 225.34"/>
<path d="M620.74 194.17L632.84 206.27M620.74 206.27L632.84 194.17"/>
<path d="M601.40 240.93L613.50 253.03M601.40 253.03L613.50 240.93"/>
<path d="M562.70 225.34L574.80 237.44M562.70 237.44L574.80 225.34"/>
<path d="M572.38 209.76L584.48 221.86M572.38 221.86L584.48 209.76"/>
<path d="M611.07 209.76L623.17 221.86M611.07 221.86L623.17 209.76"/>
<path d="M630.42 163.00L642.52 175.10M630.42 175.10L642.52 163.00"/>
<path d="M582.05 194.17L594.15 206.27M582.05 206.27L594.15 194.17"/>
<path d="M485.31 272.09L497.41 284.19M485.31 284.19L497.41 272.09"/>
<path d="M514.34 256.51L526.44 268.61M514.34 268.61L526.44 256.51"/>
<path d="M504.66 272.09L516.76 284.19M504.66 284.19L516.76 272.09"/>
<path d="M524.01 240.93L536.11 253.03M524.01 253.03L536.11 240.93"/>
<path d="M640.09 178.59L652.19 190.69M640.09 190.69L652.19 178.59"/>
<path d="M582.05 194.17L594.15 206.27M582.05 206.27L594.15 194.17"/>
<path d="M582.05 178.59L594.15 190.69M582.05 190.69L594.15 178.59"/>
<path d="M601.40 194.17L613.50 206.27M601.40 206.27L613.50 194.17"/>
<path d="M572.38 225.34L584.48 237.44M572.38 237.44L584.48 225.34"/>
<path d="M543.36 225.34L555.46 237.44M543.36 237.44L555.46 225.34"/>
<path d="M533.68 225.34L545.78 237.44M533.68 237.44L545.78 225.34"/>
<path d="M572.38 240.93L584.48 253.03M572.38 253.03L584.48 240.93"/>
<path d="M591.72 209.76L603.82 221.86M591.72 221.86L603.82 209.76"/>
<path d="M533.68 240.93L545.78 253.03M533.68 253.03L545.78 240.93"/>
<path d="M465.97 272.09L478.07 284.19M465.97 284.19L478.07 272.09"/>
<path d="M553.03 225.34L565.13 237.44M553.03 237.44L565.13 225.34"/>
<path d="M553.03 240.93L565.13 253.03M553.03 253.03L565.13 240.93"/>
<path d="M553.03 225.34L565.13 237.44M553.03 237.44L565.13 225.34"/>
<path d="M562.70 225.34L574.80 237.44M562.70 237.44L574.80 225.34"/>
<path d="M436.95 256.51L449.05 268.61M436.95 268.61L449.05 256.51"/>
<path d="M543.36 225.34L555.46 237.44M543.36 237.44L555.46 225.34"/>
</g>
</g>
<rect x="109.20" y="66.80" width="676.30" height="438.70" fill="none" stroke="#cccccc" stroke-width="2.5"/>
<rect x="586.60" y="78.60" width="187.80" height="71.00" rx="3.5" fill="#fff" fill-opacity="0.8" stroke="#cccccc" stroke-opacity="0.8" stroke-width="2.0"/>
<circle cx="617.1" cy="97.9" r="6.05" fill="rgb(228,48,48)" fill-opacity="0.8" stroke="rgb(228,48,48)" stroke-opacity="0.8" stroke-width="2.0"/>
<path d="M611.05 124.65L623.15 136.75M611.05 136.75L623.15 124.65" stroke="rgb(15,105,185)" stroke-opacity="0.82" stroke-width="2.5"/>
<g font-size="23.50"><text transform="translate(657.72 103.60) scale(0.902 1)">s</text><text transform="translate(668.86 103.60) scale(1.021 1)">e</text><text transform="translate(682.49 103.60) scale(1.261 1)">t</text><text transform="translate(691.26 103.60) scale(1.006 1)">o</text><text transform="translate(705.27 103.60) scale(0.902 1)">s</text><text transform="translate(716.69 103.60) scale(0.853 1)">a</text></g>
<g font-size="23.50"><text transform="translate(658.18 136.00) scale(1.028 1)">v</text><text transform="translate(670.99 136.00) scale(1.021 1)">e</text><text transform="translate(684.53 136.00) scale(1.210 1)">r</text><text transform="translate(694.23 136.00) scale(0.902 1)">s</text><text transform="translate(705.73 136.00) scale(0.973 1)">i</text><text transform="translate(711.61 136.00) scale(0.951 1)">c</text><text transform="translate(723.77 136.00) scale(1.006 1)">o</text><text transform="translate(737.72 136.00) scale(0.973 1)">l</text><text transform="translate(743.54 136.00) scale(1.006 1)">o</text><text transform="translate(757.00 136.00) scale(1.210 1)">r</text></g>
<g font-size="25.60"><text transform="translate(402.35 54.80) scale(0.883 1)">C</text><rect x="429.34" y="43.80" width="15.17" height="1.99" fill="#2f2f2f"/><rect x="429.34" y="48.62" width="15.17" height="2.01" fill="#2f2f2f"/><text transform="translate(455.34 54.80) scale(1.001 1)">0</text><text transform="translate(470.40 54.80) scale(1.022 1)">.</text><text transform="translate(478.83 54.80) scale(0.942 1)">5</text></g>
<g font-size="25.60"><text transform="translate(282.62 572.60) scale(1.031 1)">p</text><text transform="translate(297.76 572.60) scale(1.022 1)">e</text><text transform="translate(312.64 572.60) scale(1.262 1)">t</text><text transform="translate(322.48 572.60) scale(0.854 1)">a</text><text transform="translate(337.43 572.60) scale(0.974 1)">l</text><text transform="translate(351.87 572.60) scale(0.974 1)">l</text><text transform="translate(358.21 572.60) scale(1.022 1)">e</text><text transform="translate(373.30 572.60) scale(1.031 1)">n</text><text transform="translate(388.48 572.60) scale(1.031 1)">g</text><text transform="translate(403.83 572.60) scale(1.262 1)">t</text><text transform="translate(413.48 572.60) scale(1.037 1)">h</text><text transform="translate(436.44 572.60) scale(0.995 1)">[</text><text transform="translate(446.38 572.60) scale(0.904 1)">s</text><text transform="translate(458.49 572.60) scale(1.262 1)">t</text><text transform="translate(468.34 572.60) scale(0.854 1)">a</text><text transform="translate(483.07 572.60) scale(1.031 1)">n</text><text transform="translate(498.24 572.60) scale(1.031 1)">d</text><text transform="translate(513.94 572.60) scale(0.854 1)">a</text><text transform="translate(528.36 572.60) scale(1.212 1)">r</text><text transform="translate(538.45 572.60) scale(1.031 1)">d</text><text transform="translate(553.82 572.60) scale(0.974 1)">i</text><text transform="translate(559.92 572.60) scale(1.016 1)">z</text><text transform="translate(572.88 572.60) scale(1.022 1)">e</text><text transform="translate(587.78 572.60) scale(1.031 1)">d</text><text transform="translate(605.13 572.60) scale(0.982 1)">]</text></g>
<g transform="translate(44.1 286.15) rotate(-90)">
<g font-size="25.60"><text transform="translate(-159.49 0.00) scale(1.031 1)">p</text><text transform="translate(-144.35 0.00) scale(1.022 1)">e</text><text transform="translate(-129.47 0.00) scale(1.262 1)">t</text><text transform="translate(-119.62 0.00) scale(0.854 1)">a</text><text transform="translate(-104.68 0.00) scale(0.974 1)">l</text><text transform="translate(-89.83 0.00) scale(0.957 1)">w</text><text transform="translate(-70.41 0.00) scale(0.974 1)">i</text><text transform="translate(-64.08 0.00) scale(1.031 1)">d</text><text transform="translate(-48.73 0.00) scale(1.262 1)">t</text><text transform="translate(-39.08 0.00) scale(1.037 1)">h</text><text transform="translate(-16.12 0.00) scale(0.995 1)">[</text><text transform="translate(-6.18 0.00) scale(0.904 1)">s</text><text transform="translate(5.93 0.00) scale(1.262 1)">t</text><text transform="translate(15.78 0.00) scale(0.854 1)">a</text><text transform="translate(30.51 0.00) scale(1.031 1)">n</text><text transform="translate(45.68 0.00) scale(1.031 1)">d</text><text transform="translate(61.38 0.00) scale(0.854 1)">a</text><text transform="translate(75.80 0.00) scale(1.212 1)">r</text><text transform="translate(85.89 0.00) scale(1.031 1)">d</text><text transform="translate(101.26 0.00) scale(0.974 1)">i</text><text transform="translate(107.36 0.00) scale(1.016 1)">z</text><text transform="translate(120.32 0.00) scale(1.022 1)">e</text><text transform="translate(135.22 0.00) scale(1.031 1)">d</text><text transform="translate(152.57 0.00) scale(0.982 1)">]</text></g>
</g>
<rect x="136.86" y="533.71" width="13.92" height="1.83" fill="#2f2f2f"/><text transform="translate(153.60 541.60) scale(0.9611 1)" font-size="23.50">2</text>
<rect x="59.84" y="486.66" width="13.92" height="1.83" fill="#2f2f2f"/><text transform="translate(76.58 494.55) scale(0.9611 1)" font-size="23.50">2</text>
<rect x="277.08" y="533.71" width="13.92" height="1.83" fill="#2f2f2f"/><text transform="translate(294.10 541.60) scale(0.9510 1)" font-size="23.50">1</text>
<rect x="59.61" y="399.46" width="13.92" height="1.83" fill="#2f2f2f"/><text transform="translate(76.64 407.35) scale(0.9510 1)" font-size="23.50">1</text>
<text transform="translate(425.05 541.60) scale(1.0000 1)" font-size="23.50">0</text>
<text transform="translate(75.84 320.15) scale(1.0000 1)" font-size="23.50">0</text>
<text transform="translate(565.42 541.60) scale(0.9510 1)" font-size="23.50">1</text>
<text transform="translate(76.66 232.95) scale(0.9510 1)" font-size="23.50">1</text>
<text transform="translate(705.99 541.60) scale(0.9611 1)" font-size="23.50">2</text>
<text transform="translate(76.59 145.75) scale(0.9611 1)" font-size="23.50">2</text>
</g>
<g transform="matrix(0.98253 0 0 0.98350 435.904 625.581)">
<clipPath id="clip3"><rect x="109.20" y="66.80" width="676.30" height="438.70"/></clipPath>
<rect x="109.20" y="66.80" width="676.30" height="438.70" fill="#fff"/>
<path d="M150.94 66.80V505.50M109.20 485.95H785.50M291.27 66.80V505.50M109.20 398.75H785.50M431.60 66.80V505.50M109.20 311.55H785.50M571.93 66.80V505.50M109.20 224.35H785.50M712.26 66.80V505.50M109.20 137.15H785.50" stroke="#cccccc" stroke-width="2.0" fill="none"/>
<g clip-path="url(#clip3)">
<path d="M102.18 265.22 L792.52 365.60 L792.52 515.50 L102.18 515.50 Z" fill="rgb(230,60,60)" fill-opacity="0.2"/>
<path d="M102.18 265.22 L792.52 365.60 L792.52 56.80 L102.18 56.80 Z" fill="rgb(35,115,190)" fill-opacity="0.2"/>
<g fill="rgb(228,48,48)" fill-opacity="0.8" stroke="rgb(228,48,48)" stroke-opacity="0.8" stroke-width="2.0">
<circle cx="288.22" cy="402.82" r="6.05"/>
<circle cx="288.22" cy="402.82" r="6.05"/>
<circle cx="278.55" cy="402.82" r="6.05"/>
<circle cx="297.90" cy="402.82" r="6.05"/>
<circle cx="288.22" cy="402.82" r="6.05"/>
<circle cx="317.24" cy="371.65" r="6.05"/>
<circle cx="288.22" cy="387.23" r="6.05"/>
<circle cx="297.90" cy="402.82" r="6.05"/>
<circle cx="288.22" cy="402.82" r="6.05"/>
<circle cx="297.90" cy="418.40" r="6.05"/>
<circle cx="297.90" cy="402.82" r="6.05"/>
<circle cx="307.57" cy="402.82" r="6.05"/>
<circle cx="288.22" cy="418.40" r="6.05"/>
<circle cx="259.20" cy="418.40" r="6.05"/>
<circle cx="268.87" cy="402.82" r="6.05"/>
<circle cx="297.90" cy="371.65" r="6.05"/>
<circle cx="278.55" cy="371.65" r="6.05"/>
<circle cx="288.22" cy="387.23" r="6.05"/>
<circle cx="317.24" cy="387.23" r="6.05"/>
<circle cx="297.90" cy="387.23" r="6.05"/>
<circle cx="317.24" cy="402.82" r="6.05"/>
<circle cx="297.90" cy="371.65" r="6.05"/>
<circle cx="249.53" cy="402.82" r="6.05"/>
<circle cx="317.24" cy="356.07" r="6.05"/>
<circle cx="336.59" cy="402.82" r="6.05"/>
<circle cx="307.57" cy="402.82" r="6.05"/>
<circle cx="307.57" cy="371.65" r="6.05"/>
<circle cx="297.90" cy="402.82" r="6.05"/>
<circle cx="288.22" cy="402.82" r="6.05"/>
<circle cx="307.57" cy="402.82" r="6.05"/>
<circle cx="307.57" cy="402.82" r="6.05"/>
<circle cx="297.90" cy="371.65" r="6.05"/>
<circle cx="297.90" cy="418.40" r="6.05"/>
<circle cx="288.22" cy="402.82" r="6.05"/>
<circle cx="297.90" cy="402.82" r="6.05"/>
<circle cx="268.87" cy="402.82" r="6.05"/>
<circle cx="278.55" cy="402.82" r="6.05"/>
<circle cx="288.22" cy="418.40" r="6.05"/>
<circle cx="278.55" cy="402.82" r="6.05"/>
<circle cx="297.90" cy="402.82" r="6.05"/>
<circle cx="278.55" cy="387.23" r="6.05"/>
<circle cx="278.55" cy="387.23" r="6.05"/>
<circle cx="278.55" cy="402.82" r="6.05"/>
<circle cx="307.57" cy="340.48" r="6.05"/>
<circle cx="336.59" cy="371.65" r="6.05"/>
<circle cx="288.22" cy="387.23" r="6.05"/>
<circle cx="307.57" cy="402.82" r="6.05"/>
<circle cx="288.22" cy="402.82" r="6.05"/>
<circle cx="297.90" cy="402.82" r="6.05"/>
<circle cx="288.22" cy="402.82" r="6.05"/>
<circle cx="636.47" cy="317.10" r="6.05"/>
</g>
<g stroke="rgb(15,105,185)" stroke-opacity="0.82" stroke-width="2.5" fill="none">
<path d="M601.40 209.76L613.50 221.86M601.40 221.86L613.50 209.76"/>
<path d="M582.05 194.17L594.15 206.27M582.05 206.27L594.15 194.17"/>
<path d="M620.74 194.17L632.84 206.27M620.74 206.27L632.84 194.17"/>
<path d="M533.68 225.34L545.78 237.44M533.68 237.44L545.78 225.34"/>
<path d="M591.72 194.17L603.82 206.27M591.72 206.27L603.82 194.17"/>
<path d="M582.05 225.34L594.15 237.44M582.05 237.44L594.15 225.34"/>
<path d="M601.40 178.59L613.50 190.69M601.40 190.69L613.50 178.59"/>
<path d="M465.97 272.09L478.07 284.19M465.97 284.19L478.07 272.09"/>
<path d="M591.72 225.34L603.82 237.44M591.72 237.44L603.82 225.34"/>
<path d="M524.01 209.76L536.11 221.86M524.01 221.86L536.11 209.76"/>
<path d="M485.31 272.09L497.41 284.19M485.31 284.19L497.41 272.09"/>
<path d="M553.03 194.17L565.13 206.27M553.03 206.27L565.13 194.17"/>
<path d="M533.68 272.09L545.78 284.19M533.68 284.19L545.78 272.09"/>
<path d="M601.40 209.76L613.50 221.86M601.40 221.86L613.50 209.76"/>
<path d="M494.99 225.34L507.09 237.44M494.99 237.44L507.09 225.34"/>
<path d="M572.38 209.76L584.48 221.86M572.38 221.86L584.48 209.76"/>
<path d="M582.05 194.17L594.15 206.27M582.05 206.27L594.15 194.17"/>
<path d="M543.36 272.09L555.46 284.19M543.36 284.19L555.46 272.09"/>
<path d="M582.05 194.17L594.15 206.27M582.05 206.27L594.15 194.17"/>
<path d="M524.01 256.51L536.11 268.61M524.01 268.61L536.11 256.51"/>
<path d="M611.07 147.42L623.17 159.52M611.07 159.52L623.17 147.42"/>
<path d="M533.68 225.34L545.78 237.44M533.68 237.44L545.78 225.34"/>
<path d="M620.74 194.17L632.84 206.27M620.74 206.27L632.84 194.17"/>
<path d="M601.40 240.93L613.50 253.03M601.40 253.03L613.50 240.93"/>
<path d="M562.70 225.34L574.80 237.44M562.70 237.44L574.80 225.34"/>
<path d="M572.38 209.76L584.48 221.86M572.38 221.86L584.48 209.76"/>
<path d="M611.07 209.76L623.17 221.86M611.07 221.86L623.17 209.76"/>
<path d="M630.42 163.00L642.52 175.10M630.42 175.10L642.52 163.00"/>
<path d="M582.05 194.17L594.15 206.27M582.05 206.27L594.15 194.17"/>
<path d="M485.31 272.09L497.41 284.19M485.31 284.19L497.41 272.09"/>
<path d="M514.34 256.51L526.44 268.61M514.34 268.61L526.44 256.51"/>
<path d="M504.66 272.09L516.76 284.19M504.66 284.19L516.76 272.09"/>
<path d="M524.01 240.93L536.11 253.03M524.01 253.03L536.11 240.93"/>
<path d="M640.09 178.59L652.19 190.69M640.09 190.69L652.19 178.59"/>
<path d="M582.05 194.17L594.15 206.27M582.05 206.27L594.15 194.17"/>
<path d="M582.05 178.59L594.15 190.69M582.05 190.69L594.15 178.59"/>
<path d="M601.40 194.17L613.50 206.27M601.40 206.27L613.50 194.17"/>
<path d="M572.38 225.34L584.48 237.44M572.38 237.44L584.48 225.34"/>
<path d="M543.36 225.34L555.46 237.44M543.36 237.44L555.46 225.34"/>
<path d="M533.68 225.34L545.78 237.44M533.68 237.44L545.78 225.34"/>
<path d="M572.38 240.93L584.48 253.03M572.38 253.03L584.48 240.93"/>
<path d="M591.72 209.76L603.82 221.86M591.72 221.86L603.82 209.76"/>
<path d="M533.68 240.93L545.78 253.03M533.68 253.03L545.78 240.93"/>
<path d="M465.97 272.09L478.07 284.19M465.97 284.19L478.07 272.09"/>
<path d="M553.03 225.34L565.13 237.44M553.03 237.44L565.13 225.34"/>
<path d="M553.03 240.93L565.13 253.03M553.03 253.03L565.13 240.93"/>
<path d="M553.03 225.34L565.13 237.44M553.03 237.44L565.13 225.34"/>
<path d="M562.70 225.34L574.80 237.44M562.70 237.44L574.80 225.34"/>
<path d="M436.95 256.51L449.05 268.61M436.95 268.61L449.05 256.51"/>
<path d="M543.36 225.34L555.46 237.44M543.36 237.44L555.46 225.34"/>
</g>
</g>
<rect x="109.20" y="66.80" width="676.30" height="438.70" fill="none" stroke="#cccccc" stroke-width="2.5"/>
<rect x="586.60" y="78.60" width="187.80" height="71.00" rx="3.5" fill="#fff" fill-opacity="0.8" stroke="#cccccc" stroke-opacity="0.8" stroke-width="2.0"/>
<circle cx="617.1" cy="97.9" r="6.05" fill="rgb(228,48,48)" fill-opacity="0.8" stroke="rgb(228,48,48)" stroke-opacity="0.8" stroke-width="2.0"/>
<path d="M611.05 124.65L623.15 136.75M611.05 136.75L623.15 124.65" stroke="rgb(15,105,185)" stroke-opacity="0.82" stroke-width="2.5"/>
<g font-size="23.50"><text transform="translate(657.72 103.60) scale(0.902 1)">s</text><text transform="translate(668.86 103.60) scale(1.021 1)">e</text><text transform="translate(682.49 103.60) scale(1.261 1)">t</text><text transform="translate(691.26 103.60) scale(1.006 1)">o</text><text transform="translate(705.27 103.60) scale(0.902 1)">s</text><text transform="translate(716.69 103.60) scale(0.853 1)">a</text></g>
<g font-size="23.50"><text transform="translate(658.18 136.00) scale(1.028 1)">v</text><text transform="translate(670.99 136.00) scale(1.021 1)">e</text><text transform="translate(684.53 136.00) scale(1.210 1)">r</text><text transform="translate(694.23 136.00) scale(0.902 1)">s</text><text transform="translate(705.73 136.00) scale(0.973 1)">i</text><text transform="translate(711.61 136.00) scale(0.951 1)">c</text><text transform="translate(723.77 136.00) scale(1.006 1)">o</text><text transform="translate(737.72 136.00) scale(0.973 1)">l</text><text transform="translate(743.54 136.00) scale(1.006 1)">o</text><text transform="translate(757.00 136.00) scale(1.210 1)">r</text></g>
<g font-size="25.60"><text transform="translate(402.10 54.80) scale(0.883 1)">C</text><rect x="429.10" y="43.80" width="15.17" height="1.99" fill="#2f2f2f"/><rect x="429.10" y="48.62" width="15.17" height="2.01" fill="#2f2f2f"/><text transform="translate(455.38 54.80) scale(0.952 1)">1</text><text transform="translate(470.16 54.80) scale(1.022 1)">.</text><text transform="translate(478.22 54.80) scale(1.001 1)">0</text></g>
<g font-size="25.60"><text transform="translate(282.62 572.60) scale(1.031 1)">p</text><text transform="translate(297.76 572.60) scale(1.022 1)">e</text><text transform="translate(312.64 572.60) scale(1.262 1)">t</text><text transform="translate(322.48 572.60) scale(0.854 1)">a</text><text transform="translate(337.43 572.60) scale(0.974 1)">l</text><text transform="translate(351.87 572.60) scale(0.974 1)">l</text><text transform="translate(358.21 572.60) scale(1.022 1)">e</text><text transform="translate(373.30 572.60) scale(1.031 1)">n</text><text transform="translate(388.48 572.60) scale(1.031 1)">g</text><text transform="translate(403.83 572.60) scale(1.262 1)">t</text><text transform="translate(413.48 572.60) scale(1.037 1)">h</text><text transform="translate(436.44 572.60) scale(0.995 1)">[</text><text transform="translate(446.38 572.60) scale(0.904 1)">s</text><text transform="translate(458.49 572.60) scale(1.262 1)">t</text><text transform="translate(468.34 572.60) scale(0.854 1)">a</text><text transform="translate(483.07 572.60) scale(1.031 1)">n</text><text transform="translate(498.24 572.60) scale(1.031 1)">d</text><text transform="translate(513.94 572.60) scale(0.854 1)">a</text><text transform="translate(528.36 572.60) scale(1.212 1)">r</text><text transform="translate(538.45 572.60) scale(1.031 1)">d</text><text transform="translate(553.82 572.60) scale(0.974 1)">i</text><text transform="translate(559.92 572.60) scale(1.016 1)">z</text><text transform="translate(572.88 572.60) scale(1.022 1)">e</text><text transform="translate(587.78 572.60) scale(1.031 1)">d</text><text transform="translate(605.13 572.60) scale(0.982 1)">]</text></g>
<g transform="translate(44.1 286.15) rotate(-90)">
<g font-size="25.60"><text transform="translate(-159.49 0.00) scale(1.031 1)">p</text><text transform="translate(-144.35 0.00) scale(1.022 1)">e</text><text transform="translate(-129.47 0.00) scale(1.262 1)">t</text><text transform="translate(-119.62 0.00) scale(0.854 1)">a</text><text transform="translate(-104.68 0.00) scale(0.974 1)">l</text><text transform="translate(-89.83 0.00) scale(0.957 1)">w</text><text transform="translate(-70.41 0.00) scale(0.974 1)">i</text><text transform="translate(-64.08 0.00) scale(1.031 1)">d</text><text transform="translate(-48.73 0.00) scale(1.262 1)">t</text><text transform="translate(-39.08 0.00) scale(1.037 1)">h</text><text transform="translate(-16.12 0.00) scale(0.995 1)">[</text><text transform="translate(-6.18 0.00) scale(0.904 1)">s</text><text transform="translate(5.93 0.00) scale(1.262 1)">t</text><text transform="translate(15.78 0.00) scale(0.854 1)">a</text><text transform="translate(30.51 0.00) scale(1.031 1)">n</text><text transform="translate(45.68 0.00) scale(1.031 1)">d</text><text transform="translate(61.38 0.00) scale(0.854 1)">a</text><text transform="translate(75.80 0.00) scale(1.212 1)">r</text><text transform="translate(85.89 0.00) scale(1.031 1)">d</text><text transform="translate(101.26 0.00) scale(0.974 1)">i</text><text transform="translate(107.36 0.00) scale(1.016 1)">z</text><text transform="translate(120.32 0.00) scale(1.022 1)">e</text><text transform="translate(135.22 0.00) scale(1.031 1)">d</text><text transform="translate(152.57 0.00) scale(0.982 1)">]</text></g>
</g>
<rect x="136.86" y="533.71" width="13.92" height="1.83" fill="#2f2f2f"/><text transform="translate(153.60 541.60) scale(0.9611 1)" font-size="23.50">2</text>
<rect x="59.84" y="486.66" width="13.92" height="1.83" fill="#2f2f2f"/><text transform="translate(76.58 494.55) scale(0.9611 1)" font-size="23.50">2</text>
<rect x="277.08" y="533.71" width="13.92" height="1.83" fill="#2f2f2f"/><text transform="translate(294.10 541.60) scale(0.9510 1)" font-size="23.50">1</text>
<rect x="59.61" y="399.46" width="13.92" height="1.83" fill="#2f2f2f"/><text transform="translate(76.64 407.35) scale(0.9510 1)" font-size="23.50">1</text>
<text transform="translate(425.05 541.60) scale(1.0000 1)" font-size="23.50">0</text>
<text transform="translate(75.84 320.15) scale(1.0000 1)" font-size="23.50">0</text>
<text transform="translate(565.42 541.60) scale(0.9510 1)" font-size="23.50">1</text>
<text transform="translate(76.66 232.95) scale(0.9510 1)" font-size="23.50">1</text>
<text transform="translate(705.99 541.60) scale(0.9611 1)" font-size="23.50">2</text>
<text transform="translate(76.59 145.75) scale(0.9611 1)" font-size="23.50">2</text>
</g>
<g transform="matrix(0.98212 0 0 0.98275 1313.008 626.255)">
<clipPath id="clip4"><rect x="109.20" y="66.80" width="676.30" height="438.70"/></clipPath>
<rect x="109.20" y="66.80" width="676.30" height="438.70" fill="#fff"/>
<path d="M150.94 66.80V505.50M109.20 485.95H785.50M291.27 66.80V505.50M109.20 398.75H785.50M431.60 66.80V505.50M109.20 311.55H785.50M571.93 66.80V505.50M109.20 224.35H785.50M712.26 66.80V505.50M109.20 137.15H785.50" stroke="#cccccc" stroke-width="2.0" fill="none"/>
<g clip-path="url(#clip4)">
<path d="M102.18 336.54 L792.52 280.22 L792.52 515.50 L102.18 515.50 Z" fill="rgb(230,60,60)" fill-opacity="0.2"/>
<path d="M102.18 336.54 L792.52 280.22 L792.52 56.80 L102.18 56.80 Z" fill="rgb(35,115,190)" fill-opacity="0.2"/>
<g fill="rgb(228,48,48)" fill-opacity="0.8" stroke="rgb(228,48,48)" stroke-opacity="0.8" stroke-width="2.0">
<circle cx="288.22" cy="402.82" r="6.05"/>
<circle cx="288.22" cy="402.82" r="6.05"/>
<circle cx="278.55" cy="402.82" r="6.05"/>
<circle cx="297.90" cy="402.82" r="6.05"/>
<circle cx="288.22" cy="402.82" r="6.05"/>
<circle cx="317.24" cy="371.65" r="6.05"/>
<circle cx="288.22" cy="387.23" r="6.05"/>
<circle cx="297.90" cy="402.82" r="6.05"/>
<circle cx="288.22" cy="402.82" r="6.05"/>
<circle cx="297.90" cy="418.40" r="6.05"/>
<circle cx="297.90" cy="402.82" r="6.05"/>
<circle cx="307.57" cy="402.82" r="6.05"/>
<circle cx="288.22" cy="418.40" r="6.05"/>
<circle cx="259.20" cy="418.40" r="6.05"/>
<circle cx="268.87" cy="402.82" r="6.05"/>
<circle cx="297.90" cy="371.65" r="6.05"/>
<circle cx="278.55" cy="371.65" r="6.05"/>
<circle cx="288.22" cy="387.23" r="6.05"/>
<circle cx="317.24" cy="387.23" r="6.05"/>
<circle cx="297.90" cy="387.23" r="6.05"/>
<circle cx="317.24" cy="402.82" r="6.05"/>
<circle cx="297.90" cy="371.65" r="6.05"/>
<circle cx="249.53" cy="402.82" r="6.05"/>
<circle cx="317.24" cy="356.07" r="6.05"/>
<circle cx="336.59" cy="402.82" r="6.05"/>
<circle cx="307.57" cy="402.82" r="6.05"/>
<circle cx="307.57" cy="371.65" r="6.05"/>
<circle cx="297.90" cy="402.82" r="6.05"/>
<circle cx="288.22" cy="402.82" r="6.05"/>
<circle cx="307.57" cy="402.82" r="6.05"/>
<circle cx="307.57" cy="402.82" r="6.05"/>
<circle cx="297.90" cy="371.65" r="6.05"/>
<circle cx="297.90" cy="418.40" r="6.05"/>
<circle cx="288.22" cy="402.82" r="6.05"/>
<circle cx="297.90" cy="402.82" r="6.05"/>
<circle cx="268.87" cy="402.82" r="6.05"/>
<circle cx="278.55" cy="402.82" r="6.05"/>
<circle cx="288.22" cy="418.40" r="6.05"/>
<circle cx="278.55" cy="402.82" r="6.05"/>
<circle cx="297.90" cy="402.82" r="6.05"/>
<circle cx="278.55" cy="387.23" r="6.05"/>
<circle cx="278.55" cy="387.23" r="6.05"/>
<circle cx="278.55" cy="402.82" r="6.05"/>
<circle cx="307.57" cy="340.48" r="6.05"/>
<circle cx="336.59" cy="371.65" r="6.05"/>
<circle cx="288.22" cy="387.23" r="6.05"/>
<circle cx="307.57" cy="402.82" r="6.05"/>
<circle cx="288.22" cy="402.82" r="6.05"/>
<circle cx="297.90" cy="402.82" r="6.05"/>
<circle cx="288.22" cy="402.82" r="6.05"/>
<circle cx="636.47" cy="317.10" r="6.05"/>
</g>
<g stroke="rgb(15,105,185)" stroke-opacity="0.82" stroke-width="2.5" fill="none">
<path d="M601.40 209.76L613.50 221.86M601.40 221.86L613.50 209.76"/>
<path d="M582.05 194.17L594.15 206.27M582.05 206.27L594.15 194.17"/>
<path d="M620.74 194.17L632.84 206.27M620.74 206.27L632.84 194.17"/>
<path d="M533.68 225.34L545.78 237.44M533.68 237.44L545.78 225.34"/>
<path d="M591.72 194.17L603.82 206.27M591.72 206.27L603.82 194.17"/>
<path d="M582.05 225.34L594.15 237.44M582.05 237.44L594.15 225.34"/>
<path d="M601.40 178.59L613.50 190.69M601.40 190.69L613.50 178.59"/>
<path d="M465.97 272.09L478.07 284.19M465.97 284.19L478.07 272.09"/>
<path d="M591.72 225.34L603.82 237.44M591.72 237.44L603.82 225.34"/>
<path d="M524.01 209.76L536.11 221.86M524.01 221.86L536.11 209.76"/>
<path d="M485.31 272.09L497.41 284.19M485.31 284.19L497.41 272.09"/>
<path d="M553.03 194.17L565.13 206.27M553.03 206.27L565.13 194.17"/>
<path d="M533.68 272.09L545.78 284.19M533.68 284.19L545.78 272.09"/>
<path d="M601.40 209.76L613.50 221.86M601.40 221.86L613.50 209.76"/>
<path d="M494.99 225.34L507.09 237.44M494.99 237.44L507.09 225.34"/>
<path d="M572.38 209.76L584.48 221.86M572.38 221.86L584.48 209.76"/>
<path d="M582.05 194.17L594.15 206.27M582.05 206.27L594.15 194.17"/>
<path d="M543.36 272.09L555.46 284.19M543.36 284.19L555.46 272.09"/>
<path d="M582.05 194.17L594.15 206.27M582.05 206.27L594.15 194.17"/>
<path d="M524.01 256.51L536.11 268.61M524.01 268.61L536.11 256.51"/>
<path d="M611.07 147.42L623.17 159.52M611.07 159.52L623.17 147.42"/>
<path d="M533.68 225.34L545.78 237.44M533.68 237.44L545.78 225.34"/>
<path d="M620.74 194.17L632.84 206.27M620.74 206.27L632.84 194.17"/>
<path d="M601.40 240.93L613.50 253.03M601.40 253.03L613.50 240.93"/>
<path d="M562.70 225.34L574.80 237.44M562.70 237.44L574.80 225.34"/>
<path d="M572.38 209.76L584.48 221.86M572.38 221.86L584.48 209.76"/>
<path d="M611.07 209.76L623.17 221.86M611.07 221.86L623.17 209.76"/>
<path d="M630.42 163.00L642.52 175.10M630.42 175.10L642.52 163.00"/>
<path d="M582.05 194.17L594.15 206.27M582.05 206.27L594.15 194.17"/>
<path d="M485.31 272.09L497.41 284.19M485.31 284.19L497.41 272.09"/>
<path d="M514.34 256.51L526.44 268.61M514.34 268.61L526.44 256.51"/>
<path d="M504.66 272.09L516.76 284.19M504.66 284.19L516.76 272.09"/>
<path d="M524.01 240.93L536.11 253.03M524.01 253.03L536.11 240.93"/>
<path d="M640.09 178.59L652.19 190.69M640.09 190.69L652.19 178.59"/>
<path d="M582.05 194.17L594.15 206.27M582.05 206.27L594.15 194.17"/>
<path d="M582.05 178.59L594.15 190.69M582.05 190.69L594.15 178.59"/>
<path d="M601.40 194.17L613.50 206.27M601.40 206.27L613.50 194.17"/>
<path d="M572.38 225.34L584.48 237.44M572.38 237.44L584.48 225.34"/>
<path d="M543.36 225.34L555.46 237.44M543.36 237.44L555.46 225.34"/>
<path d="M533.68 225.34L545.78 237.44M533.68 237.44L545.78 225.34"/>
<path d="M572.38 240.93L584.48 253.03M572.38 253.03L584.48 240.93"/>
<path d="M591.72 209.76L603.82 221.86M591.72 221.86L603.82 209.76"/>
<path d="M533.68 240.93L545.78 253.03M533.68 253.03L545.78 240.93"/>
<path d="M465.97 272.09L478.07 284.19M465.97 284.19L478.07 272.09"/>
<path d="M553.03 225.34L565.13 237.44M553.03 237.44L565.13 225.34"/>
<path d="M553.03 240.93L565.13 253.03M553.03 253.03L565.13 240.93"/>
<path d="M553.03 225.34L565.13 237.44M553.03 237.44L565.13 225.34"/>
<path d="M562.70 225.34L574.80 237.44M562.70 237.44L574.80 225.34"/>
<path d="M436.95 256.51L449.05 268.61M436.95 268.61L449.05 256.51"/>
<path d="M543.36 225.34L555.46 237.44M543.36 237.44L555.46 225.34"/>
</g>
</g>
<rect x="109.20" y="66.80" width="676.30" height="438.70" fill="none" stroke="#cccccc" stroke-width="2.5"/>
<rect x="586.60" y="78.60" width="187.80" height="71.00" rx="3.5" fill="#fff" fill-opacity="0.8" stroke="#cccccc" stroke-opacity="0.8" stroke-width="2.0"/>
<circle cx="617.1" cy="97.9" r="6.05" fill="rgb(228,48,48)" fill-opacity="0.8" stroke="rgb(228,48,48)" stroke-opacity="0.8" stroke-width="2.0"/>
<path d="M611.05 124.65L623.15 136.75M611.05 136.75L623.15 124.65" stroke="rgb(15,105,185)" stroke-opacity="0.82" stroke-width="2.5"/>
<g font-size="23.50"><text transform="translate(657.72 103.60) scale(0.902 1)">s</text><text transform="translate(668.86 103.60) scale(1.021 1)">e</text><text transform="translate(682.49 103.60) scale(1.261 1)">t</text><text transform="translate(691.26 103.60) scale(1.006 1)">o</text><text transform="translate(705.27 103.60) scale(0.902 1)">s</text><text transform="translate(716.69 103.60) scale(0.853 1)">a</text></g>
<g font-size="23.50"><text transform="translate(658.18 136.00) scale(1.028 1)">v</text><text transform="translate(670.99 136.00) scale(1.021 1)">e</text><text transform="translate(684.53 136.00) scale(1.210 1)">r</text><text transform="translate(694.23 136.00) scale(0.902 1)">s</text><text transform="translate(705.73 136.00) scale(0.973 1)">i</text><text transform="translate(711.61 136.00) scale(0.951 1)">c</text><text transform="translate(723.77 136.00) scale(1.006 1)">o</text><text transform="translate(737.72 136.00) scale(0.973 1)">l</text><text transform="translate(743.54 136.00) scale(1.006 1)">o</text><text transform="translate(757.00 136.00) scale(1.210 1)">r</text></g>
<g font-size="25.60"><text transform="translate(363.53 54.80) scale(0.883 1)">C</text><rect x="390.53" y="43.80" width="15.17" height="1.99" fill="#2f2f2f"/><rect x="390.53" y="48.62" width="15.17" height="2.01" fill="#2f2f2f"/><text transform="translate(416.81 54.80) scale(0.952 1)">1</text><text transform="translate(431.95 54.80) scale(1.001 1)">0</text><text transform="translate(447.37 54.80) scale(1.001 1)">0</text><text transform="translate(462.79 54.80) scale(1.001 1)">0</text><text transform="translate(478.21 54.80) scale(1.001 1)">0</text><text transform="translate(493.64 54.80) scale(1.001 1)">0</text><text transform="translate(508.70 54.80) scale(1.022 1)">.</text><text transform="translate(516.76 54.80) scale(1.001 1)">0</text></g>
<g font-size="25.60"><text transform="translate(282.62 572.60) scale(1.031 1)">p</text><text transform="translate(297.76 572.60) scale(1.022 1)">e</text><text transform="translate(312.64 572.60) scale(1.262 1)">t</text><text transform="translate(322.48 572.60) scale(0.854 1)">a</text><text transform="translate(337.43 572.60) scale(0.974 1)">l</text><text transform="translate(351.87 572.60) scale(0.974 1)">l</text><text transform="translate(358.21 572.60) scale(1.022 1)">e</text><text transform="translate(373.30 572.60) scale(1.031 1)">n</text><text transform="translate(388.48 572.60) scale(1.031 1)">g</text><text transform="translate(403.83 572.60) scale(1.262 1)">t</text><text transform="translate(413.48 572.60) scale(1.037 1)">h</text><text transform="translate(436.44 572.60) scale(0.995 1)">[</text><text transform="translate(446.38 572.60) scale(0.904 1)">s</text><text transform="translate(458.49 572.60) scale(1.262 1)">t</text><text transform="translate(468.34 572.60) scale(0.854 1)">a</text><text transform="translate(483.07 572.60) scale(1.031 1)">n</text><text transform="translate(498.24 572.60) scale(1.031 1)">d</text><text transform="translate(513.94 572.60) scale(0.854 1)">a</text><text transform="translate(528.36 572.60) scale(1.212 1)">r</text><text transform="translate(538.45 572.60) scale(1.031 1)">d</text><text transform="translate(553.82 572.60) scale(0.974 1)">i</text><text transform="translate(559.92 572.60) scale(1.016 1)">z</text><text transform="translate(572.88 572.60) scale(1.022 1)">e</text><text transform="translate(587.78 572.60) scale(1.031 1)">d</text><text transform="translate(605.13 572.60) scale(0.982 1)">]</text></g>
<g transform="translate(44.1 286.15) rotate(-90)">
<g font-size="25.60"><text transform="translate(-159.49 0.00) scale(1.031 1)">p</text><text transform="translate(-144.35 0.00) scale(1.022 1)">e</text><text transform="translate(-129.47 0.00) scale(1.262 1)">t</text><text transform="translate(-119.62 0.00) scale(0.854 1)">a</text><text transform="translate(-104.68 0.00) scale(0.974 1)">l</text><text transform="translate(-89.83 0.00) scale(0.957 1)">w</text><text transform="translate(-70.41 0.00) scale(0.974 1)">i</text><text transform="translate(-64.08 0.00) scale(1.031 1)">d</text><text transform="translate(-48.73 0.00) scale(1.262 1)">t</text><text transform="translate(-39.08 0.00) scale(1.037 1)">h</text><text transform="translate(-16.12 0.00) scale(0.995 1)">[</text><text transform="translate(-6.18 0.00) scale(0.904 1)">s</text><text transform="translate(5.93 0.00) scale(1.262 1)">t</text><text transform="translate(15.78 0.00) scale(0.854 1)">a</text><text transform="translate(30.51 0.00) scale(1.031 1)">n</text><text transform="translate(45.68 0.00) scale(1.031 1)">d</text><text transform="translate(61.38 0.00) scale(0.854 1)">a</text><text transform="translate(75.80 0.00) scale(1.212 1)">r</text><text transform="translate(85.89 0.00) scale(1.031 1)">d</text><text transform="translate(101.26 0.00) scale(0.974 1)">i</text><text transform="translate(107.36 0.00) scale(1.016 1)">z</text><text transform="translate(120.32 0.00) scale(1.022 1)">e</text><text transform="translate(135.22 0.00) scale(1.031 1)">d</text><text transform="translate(152.57 0.00) scale(0.982 1)">]</text></g>
</g>
<rect x="136.86" y="533.71" width="13.92" height="1.83" fill="#2f2f2f"/><text transform="translate(153.60 541.60) scale(0.9611 1)" font-size="23.50">2</text>
<rect x="59.84" y="486.66" width="13.92" height="1.83" fill="#2f2f2f"/><text transform="translate(76.58 494.55) scale(0.9611 1)" font-size="23.50">2</text>
<rect x="277.08" y="533.71" width="13.92" height="1.83" fill="#2f2f2f"/><text transform="translate(294.10 541.60) scale(0.9510 1)" font-size="23.50">1</text>
<rect x="59.61" y="399.46" width="13.92" height="1.83" fill="#2f2f2f"/><text transform="translate(76.64 407.35) scale(0.9510 1)" font-size="23.50">1</text>
<text transform="translate(425.05 541.60) scale(1.0000 1)" font-size="23.50">0</text>
<text transform="translate(75.84 320.15) scale(1.0000 1)" font-size="23.50">0</text>
<text transform="translate(565.42 541.60) scale(0.9510 1)" font-size="23.50">1</text>
<text transform="translate(76.66 232.95) scale(0.9510 1)" font-size="23.50">1</text>
<text transform="translate(705.99 541.60) scale(0.9611 1)" font-size="23.50">2</text>
<text transform="translate(76.59 145.75) scale(0.9611 1)" font-size="23.50">2</text>
</g>
</svg></body></html>
